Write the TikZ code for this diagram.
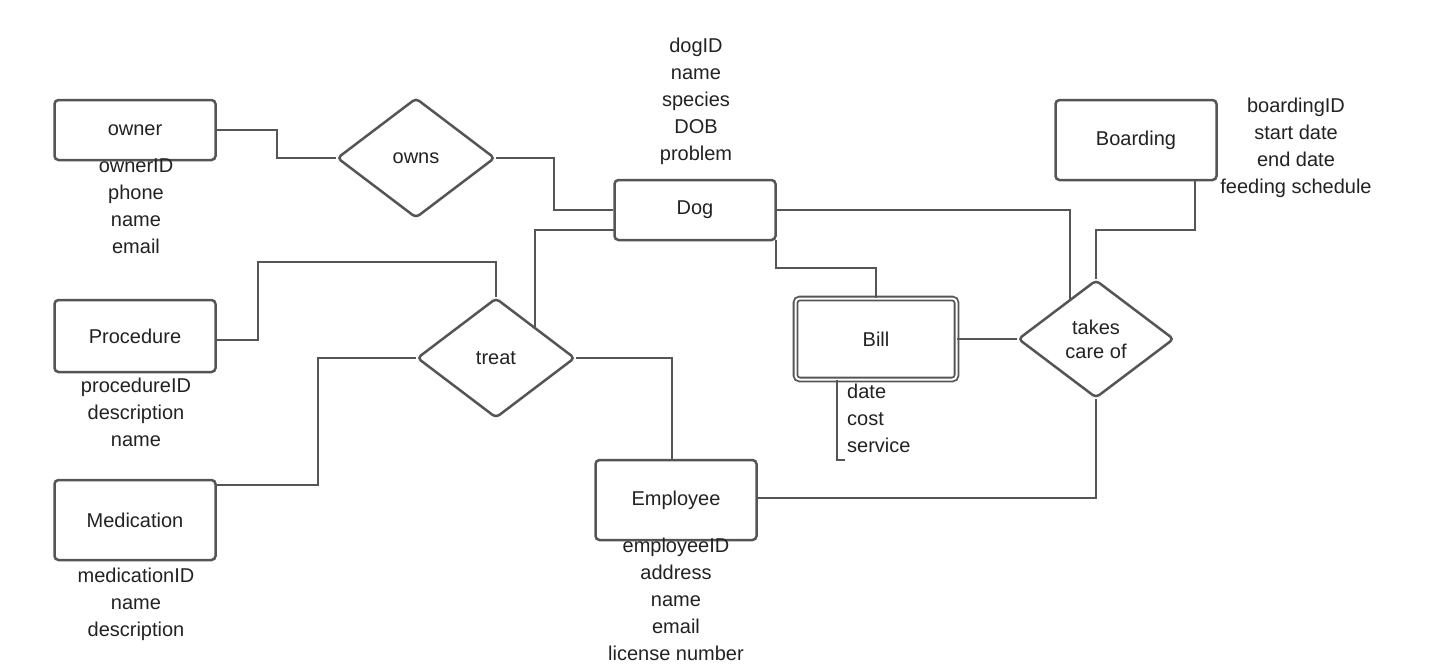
\documentclass[tikz,border=0pt]{standalone}
\usepackage{fontspec}
\setmainfont{Liberation Sans}
\usetikzlibrary{shapes.geometric}
\definecolor{ln}{HTML}{555555}
\definecolor{tx}{HTML}{222222}
\begin{document}
\begin{tikzpicture}[x=1pt,y=-1pt,
  every node/.style={font=\fontsize{20}{24}\selectfont,text=tx},
  ent/.style={draw=ln,line width=2.5pt,rounded corners=4pt,minimum width=161pt,minimum height=60pt,inner sep=0pt},
  rel/.style={draw=ln,line width=2.5pt,diamond,aspect=1.32,minimum width=158pt,minimum height=120pt,inner sep=0pt,rounded corners=4pt},
  con/.style={draw=ln,line width=1.6pt},
  attr/.style={align=center,font=\fontsize{20}{27}\selectfont,inner sep=0pt}]
\useasboundingbox (0,0) rectangle (1456,670);
\node[ent] (owner) at (135,130) {owner};
\node[rel] (owns) at (416,158) {owns};
\node[ent] (dog) at (695,210) {Dog};
\node[ent,minimum height=80pt] (board) at (1136,140) {Boarding};
\node[ent,minimum height=72pt] (proc) at (135,336) {Procedure};
\node[rel] (treat) at (496,358) {treat};
\node[ent,minimum height=81pt,double,double distance=2pt,line width=1.8pt] (bill) at (876,339) {Bill};
\node[rel,align=center,minimum height=118pt,minimum width=156pt] (care) at (1096,339) {takes\\care of};
\node[ent,minimum height=80pt] (med) at (135,520) {Medication};
\node[ent,minimum height=80pt] (emp) at (676,500) {Employee};

\node[attr,anchor=north] (dogA) at (696,38) {dogID\\name\\species\\DOB\\problem};
\node[attr,anchor=north] (ownA) at (136,159) {ownerID\\phone\\name\\email};
\node[attr,anchor=north] (boardA) at (1296,98) {boardingID\\start date\\end date\\feeding schedule};
\node[attr,anchor=north] (procA) at (136,378) {procedureID\\description\\name};
\node[attr,anchor=north] (medA) at (136,568) {medicationID\\name\\description};
\node[attr,anchor=north] (empA) at (676,538) {employeeID\\address\\name\\email\\license number};
\node[attr,anchor=north west,align=left] (billA) at (847,384) {date\\cost\\service};

\coordinate (b1) at (837,380);
\coordinate (b2) at (845,460);
\draw[con] (b1) -- (837,460) -- (b2);

\draw[con] (owner.east |- 0,130) -- (277,130) -- (277,158) -- (owns.west);
\draw[con] (owns.east) -- (554,158) -- (554,210) -- (dog.west);
\draw[con] (dog.east) -- (1070,210) -- (1070,299);
\draw[con] (1195,180) -- (1195,230) -- (1096,230) -- (care.north);
\draw[con] (776,240) -- (776,268) -- (876,268) -- (bill.north);
\draw[con] (bill.east) -- (care.west);
\draw[con] (care.south) -- (1096,498) -- (emp.east |- 0,498);
\draw[con] (615,230) -- (535,230) -- (535,327);
\draw[con] (216,340) -- (258,340) -- (258,262) -- (496,262) -- (treat.north);
\draw[con] (216,485) -- (318,485) -- (318,358) -- (treat.west);
\draw[con] (treat.east) -- (672,358) -- (672,460);
\end{tikzpicture}
\end{document}
